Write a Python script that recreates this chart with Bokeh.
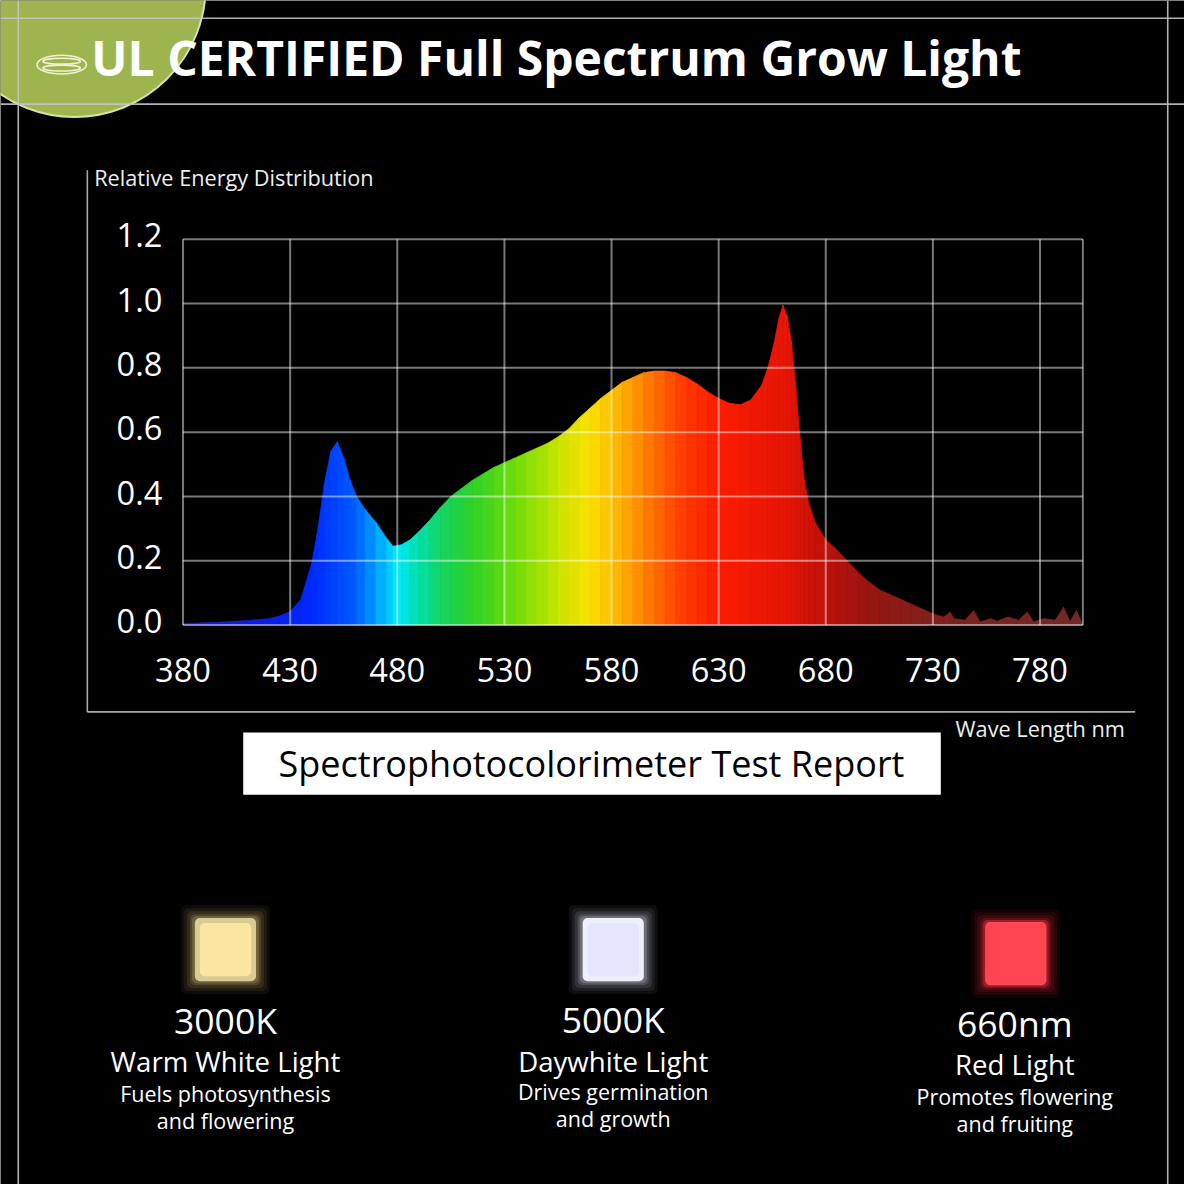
from bokeh.plotting import figure
from bokeh.models import Range1d, Rect
from bokeh.core.properties import value
from bokeh.embed import file_html
from bokeh.resources import INLINE

# ---------------- data ----------------
wavelength_nm = [380, 390, 400, 410, 420, 425, 430, 435, 440, 443, 446, 449, 452, 455, 458, 461, 465,
                 470, 475, 478, 482, 486, 490, 495, 500, 505, 510, 515, 520, 525, 530, 535, 540, 545,
                 550, 555, 560, 565, 570, 575, 580, 585, 590, 595, 600, 605, 610, 615, 620, 625, 630,
                 635, 640, 645, 650, 653, 656, 658, 660, 662, 664, 666, 668, 670, 672, 675, 680, 685,
                 690, 695, 700, 705, 710, 715, 720, 725, 730, 735, 738, 740, 745, 749, 752, 757, 760,
                 765, 770, 774, 777, 782, 787, 791, 794, 797, 800]
relative_energy = [0.005, 0.007, 0.010, 0.014, 0.020, 0.028, 0.042, 0.080, 0.190, 0.300, 0.440, 0.540,
                   0.570, 0.520, 0.450, 0.400, 0.360, 0.320, 0.270, 0.245, 0.250, 0.265, 0.290, 0.325,
                   0.365, 0.400, 0.425, 0.450, 0.470, 0.490, 0.505, 0.520, 0.535, 0.550, 0.565, 0.585,
                   0.610, 0.645, 0.675, 0.705, 0.730, 0.755, 0.770, 0.785, 0.790, 0.790, 0.785, 0.770,
                   0.750, 0.725, 0.705, 0.690, 0.685, 0.700, 0.745, 0.800, 0.880, 0.950, 0.995, 0.960,
                   0.880, 0.740, 0.580, 0.450, 0.380, 0.320, 0.265, 0.235, 0.200, 0.165, 0.135, 0.110,
                   0.095, 0.080, 0.065, 0.050, 0.035, 0.025, 0.040, 0.020, 0.015, 0.045, 0.010, 0.020,
                   0.012, 0.025, 0.015, 0.040, 0.010, 0.020, 0.015, 0.055, 0.010, 0.045, 0.000]
assert len(wavelength_nm) == len(relative_energy)

x_min, x_max = 380, 800
y_min, y_max = 0.0, 1.2
x_ticks = [380, 430, 480, 530, 580, 630, 680, 730, 780]
x_tick_labels = ["380", "430", "480", "530", "580", "630", "680", "730", "780"]
y_ticks = [0.0, 0.2, 0.4, 0.6, 0.8, 1.0, 1.2]
y_tick_labels = ["0.0", "0.2", "0.4", "0.6", "0.8", "1.0", "1.2"]

title_text = "UL CERTIFIED Full Spectrum Grow Light"
y_axis_title = "Relative Energy Distribution"
x_axis_title = "Wave Length nm"
report_text = "Spectrophotocolorimeter Test Report"

light_values = ["3000K", "5000K", "660nm"]
light_names = ["Warm White Light", "Daywhite Light", "Red Light"]
light_desc1 = ["Fuels photosynthesis", "Drives germination", "Promotes flowering"]
light_desc2 = ["and flowering", "and growth", "and fruiting"]

# ---------------- styles / layout ----------------
FONT = value("Open Sans")
W = H = 1184          # canvas size
REF = 1200            # layout coordinate system (reference pixels)
S = W / REF
FL, FR, FT, FB = 185, 1097, 242, 633   # chart frame in reference pixels


def fs(px):
    return value("%.1fpx" % (px * S))


def bl(y, size):
    # baseline correction for text rendering
    return y - 0.42 * size


color_stops = [(380, (25, 30, 190)), (420, (10, 30, 225)), (440, (0, 40, 255)), (460, (0, 90, 255)),
               (472, (0, 170, 255)), (480, (0, 230, 255)), (490, (0, 225, 170)), (500, (20, 212, 100)),
               (515, (45, 210, 40)), (535, (110, 220, 10)), (555, (200, 228, 0)), (570, (250, 225, 0)),
               (585, (255, 175, 0)), (600, (255, 110, 0)), (615, (255, 55, 0)), (630, (250, 28, 0)),
               (660, (232, 22, 5)), (680, (190, 16, 10)), (700, (150, 22, 16)), (730, (128, 32, 28)),
               (800, (115, 40, 40))]


def wl_color(w):
    for (w0, c0), (w1, c1) in zip(color_stops[:-1], color_stops[1:]):
        if w0 <= w <= w1:
            t = (w - w0) / (w1 - w0)
            c = [round(a + (b - a) * t) for a, b in zip(c0, c1)]
            return "#%02x%02x%02x" % tuple(c)
    return "#%02x%02x%02x" % color_stops[-1][1]


p = figure(width=W, height=H, x_range=Range1d(0, REF), y_range=Range1d(REF, 0),
           x_axis_type=None, y_axis_type=None, toolbar_location=None, output_backend="svg",
           min_border=0, background_fill_color="#000000", border_fill_color="#000000",
           outline_line_color=None)

kx = (x_max - x_min) / (FR - FL)
ky = (y_max - y_min) / (FB - FT)
p.extra_x_ranges = {"wl": Range1d(x_min - FL * kx, x_max + (REF - FR) * kx)}
p.extra_y_ranges = {"en": Range1d(y_min - (REF - FB) * ky, y_max + FT * ky)}

rounded = {"border_radius": 5} if "border_radius" in Rect.properties() else {}

# ---------- decorations (reference pixel coords) ----------
p.circle(x=[75], y=[-15], radius=133, fill_color="#9db44f", line_color="#d6e39c", line_width=2)
p.ellipse(x=[62, 62, 62], y=[65, 61.5, 68.5], width=[50, 38, 38], height=[19, 6, 6],
          fill_color=None, line_color="#f3f0d2", line_width=1.6)

line_col = "#c4c4c4"
p.segment(x0=[0, 0], y0=[18, 105], x1=[1200, 1200], y1=[18, 105], line_color=line_col,
          line_width=1.6, line_alpha=0.9)
p.segment(x0=[18, 1183], y0=[0, 0], x1=[18, 1183], y1=[1200, 1200], line_color=line_col,
          line_width=1.6, line_alpha=0.9)

p.text(x=[92], y=[bl(78, 48.6)], text=[title_text], text_font=FONT, text_font_style="bold",
       text_font_size=fs(48.6), text_color="#ffffff", text_baseline="alphabetic", text_align="left")

# chart L frame
p.segment(x0=[88, 88], y0=[172, 721], x1=[88, 1150], y1=[721, 721], line_color="#a8a8a8", line_width=1.6)
p.text(x=[95], y=[bl(189, 22)], text=[y_axis_title], text_font=FONT, text_font_size=fs(22),
       text_color="#eeeeee", text_baseline="alphabetic", text_align="left")
p.text(x=[968], y=[bl(747, 22)], text=[x_axis_title], text_font=FONT, text_font_size=fs(22),
       text_color="#eeeeee", text_baseline="alphabetic", text_align="left")

# report box
p.quad(left=[246], right=[953], top=[742], bottom=[805], fill_color="#ffffff", line_color=None)
p.text(x=[599], y=[bl(789, 36.5)], text=[report_text], text_font=FONT, text_font_size=fs(36.5),
       text_color="#000000", text_baseline="alphabetic", text_align="center")

# ---------- spectrum ----------
xs, ys, cols = [], [], []
for i in range(len(wavelength_nm) - 1):
    w0, w1 = wavelength_nm[i], wavelength_nm[i + 1]
    e0, e1 = relative_energy[i], relative_energy[i + 1]
    xs.append([w0, w1, w1, w0])
    ys.append([0, 0, e1, e0])
    cols.append(wl_color((w0 + w1) / 2))
p.patches(xs, ys, fill_color=cols, line_color=cols, line_width=0.8, x_range_name="wl", y_range_name="en")

grid_x = x_ticks + [x_max]
p.segment(x0=grid_x, y0=[y_min] * len(grid_x), x1=grid_x, y1=[y_max] * len(grid_x),
          line_color="#ffffff", line_alpha=0.47, line_width=2, x_range_name="wl", y_range_name="en")
p.segment(x0=[x_min] * len(y_ticks), y0=y_ticks, x1=[x_max] * len(y_ticks), y1=y_ticks,
          line_color="#ffffff", line_alpha=0.47, line_width=2, x_range_name="wl", y_range_name="en")

TICK = 33
p.text(x=x_ticks, y=[y_min] * len(x_ticks), text=x_tick_labels, y_offset=(59 - 0.42 * TICK) * S,
       text_font=FONT, text_font_size=fs(TICK), text_color="#ffffff", text_align="center",
       text_baseline="alphabetic", x_range_name="wl", y_range_name="en")
p.text(x=[x_min] * len(y_ticks), y=y_ticks, text=y_tick_labels, x_offset=-21 * S,
       y_offset=(10 - 0.42 * TICK) * S, text_font=FONT, text_font_size=fs(TICK), text_color="#ffffff",
       text_align="right", text_baseline="alphabetic", x_range_name="wl", y_range_name="en")

# ---------- light icons ----------
icon_cx = [228, 621, 1029]
icon_cy = [962, 962, 966]
glow_cols = ["#c8b070", "#c8c8dc", "#e8283a"]
ring_cols = ["#6e6440", "#707078", "#a02030"]
border_cols = ["#d8cb95", "#eeeff8", "#ff4a58"]
fill_cols = ["#fbe7a2", "#e2e5fb", "#ff4452"]
for pad, a in [(14, 0.07), (11, 0.09), (8, 0.13), (5, 0.18), (3, 0.25)]:
    p.rect(x=icon_cx, y=icon_cy, width=62 + 2 * pad, height=62 + 2 * pad, fill_color=glow_cols,
           fill_alpha=a, line_color=None, **rounded)
p.rect(x=icon_cx, y=icon_cy, width=66, height=68, fill_color=ring_cols, fill_alpha=0.8,
       line_color=None, **rounded)
p.rect(x=icon_cx, y=icon_cy, width=62, height=64, fill_color=border_cols, line_color=None, **rounded)
p.rect(x=icon_cx, y=icon_cy, width=[52, 52, 60], height=[54, 54, 62], fill_color=fill_cols,
       line_color=None, **rounded)

text_cx = [228, 621, 1028]
V, N, D = 36, 28, 21.8
p.text(x=text_cx, y=[bl(1048, V), bl(1047, V), bl(1051, V)], text=light_values, text_font=FONT,
       text_font_size=fs(V), text_color="#ffffff", text_align="center", text_baseline="alphabetic")
p.text(x=text_cx, y=[bl(1087, N), bl(1087, N), bl(1090, N)], text=light_names, text_font=FONT,
       text_font_size=fs(N), text_color="#ffffff", text_align="center", text_baseline="alphabetic")
p.text(x=text_cx, y=[bl(1117, D), bl(1115, D), bl(1120, D)], text=light_desc1, text_font=FONT,
       text_font_size=fs(D), text_color="#ffffff", text_align="center", text_baseline="alphabetic")
p.text(x=text_cx, y=[bl(1144, D), bl(1142, D), bl(1147, D)], text=light_desc2, text_font=FONT,
       text_font_size=fs(D), text_color="#ffffff", text_align="center", text_baseline="alphabetic")

open("out.html", "w").write(file_html(p, INLINE))
